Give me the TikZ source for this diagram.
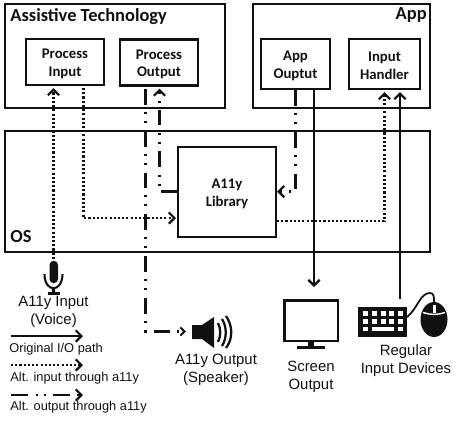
\documentclass[tikz,border=0pt]{standalone}
\usepackage{fontspec}
\setmainfont{Liberation Sans}
\newfontfamily\labelfont{Carlito}
\usepackage{xcolor}
\usetikzlibrary{arrows.meta}
\definecolor{inkblack}{HTML}{111111}
\tikzset{
  panel/.style={draw=inkblack,line width=1.15pt,inner sep=0pt},
  boxlabel/.style={font=\labelfont\bfseries\fontsize{8.4}{10}\selectfont,align=center,text=inkblack,yshift=-0.04cm},
  paneltitle/.style={font=\labelfont\bfseries\fontsize{10.5}{11}\selectfont,text=inkblack,inner sep=0pt},
  devicelabel/.style={font=\fontsize{8.5}{10.1}\selectfont,align=center,text=inkblack,inner sep=0pt},
  legendlabel/.style={font=\fontsize{7.3}{9}\selectfont,text=inkblack,inner sep=0pt,anchor=west},
  regularpath/.style={draw=inkblack,line width=1.15pt,-{Straight Barb[length=3.2pt,width=6.4pt,line width=1.3pt]}},
  altinput/.style={regularpath,dash pattern=on 1.2pt off 1.2pt},
  altoutput/.style={regularpath,dash pattern=on 9pt off 4pt on 1.1pt off 4pt on 1.1pt off 4.6pt},
}
\begin{document}
\begin{tikzpicture}[x=0.02cm,y=-0.02cm]
  \useasboundingbox (0,0) rectangle (474,420);
  % the three layers
  \node[panel,minimum width=220*0.02cm,minimum height=104*0.02cm] (assistive) at (115,56) {};
  \node[panel,minimum width=177*0.02cm,minimum height=104*0.02cm] (appbox) at (341.5,56) {};
  \node[panel,minimum width=425*0.02cm,minimum height=121*0.02cm] (osbox) at (217.5,191.5) {};
  \node[paneltitle,anchor=west] (attitle) at (10,17) {Assistive Technology};
  \node[paneltitle,anchor=east] (apptitle) at (427,15) {App};
  \node[paneltitle,anchor=west] (ostitle) at (10,237) {OS};
  % inner boxes
  \node[panel,minimum width=78*0.02cm,minimum height=46*0.02cm] (procinput) at (65,62) {};
  \node[panel,minimum width=78*0.02cm,minimum height=46*0.02cm] (procoutput) at (159,62.5) {};
  \node[panel,minimum width=69*0.02cm,minimum height=50*0.02cm] (appoutput) at (295.5,64) {};
  \node[panel,minimum width=71*0.02cm,minimum height=50*0.02cm] (inputhandler) at (384.5,64) {};
  \node[panel,minimum width=98*0.02cm,minimum height=90*0.02cm] (library) at (227,192) {};
  \node[boxlabel] (procinputtext) at (procinput.center) {Process\\Input};
  \node[boxlabel] (procoutputtext) at (procoutput.center) {Process\\Output};
  \node[boxlabel] (appoutputtext) at (appoutput.center) {App\\Ouptut};
  \node[boxlabel] (inputhandlertext) at (inputhandler.center) {Input\\Handler};
  \node[boxlabel] (librarytext) at (library.center) {A11y\\Library};
  % device labels
  \node[devicelabel] (voicelabel) at (53.5,312) {A11y Input\\(Voice)};
  \node[devicelabel] (speakerlabel) at (216,370) {A11y Output\\(Speaker)};
  \node[devicelabel] (screenlabel) at (311,376.5) {Screen\\Output};
  \node[devicelabel] (regularlabel) at (406,360.5) {Regular\\Input Devices};
  % free ends
  \coordinate (mictop) at (53.5,259);
  \coordinate (pinputout) at (83.5,88);
  \coordinate (libin) at (176,218);
  \coordinate (poutdown) at (145.5,89);
  \coordinate (speakerin) at (186,331.5);
  \coordinate (libleft) at (159.5,191.5);
  \coordinate (appdown) at (295.5,90);
  \coordinate (libright) at (277,191.5);
  \coordinate (screentop) at (314,287);
  \coordinate (appsolid) at (314,89);
  \coordinate (hinput) at (384.5,221);
  \coordinate (kbtop) at (400,299);
  % connectors
  \draw[altinput] (mictop) -- ([yshift=-0.04cm]mictop |- procinput.south);
  \draw[altinput] (pinputout) |- (libin);
  \draw[altoutput,-{Straight Barb[length=2.4pt,width=4.6pt,line width=1.1pt]}] (poutdown) |- (speakerin);
  \draw[altoutput] (libleft -| library.west) -| ([yshift=-0.04cm]libleft |- procoutput.south);
  \draw[altoutput] (appdown) |- (libright);
  \draw[regularpath] (appsolid) -- (screentop);
  \draw[altinput] (library.east |- hinput) -| ([yshift=-0.04cm]hinput |- inputhandler.south);
  \draw[regularpath] (kbtop) -- ([yshift=-0.04cm]kbtop |- inputhandler.south);
  % legend
  \coordinate (lega) at (11,336);
  \coordinate (legb) at (83,336);
  \coordinate (legc) at (11,365);
  \coordinate (legd) at (83,365);
  \coordinate (lege) at (11,395);
  \coordinate (legf) at (83,395);
  \draw[regularpath] (lega) -- (legb);
  \draw[altinput] (legc) -- (legd);
  \draw[regularpath,dash pattern=on 9.6pt off 4.5pt on 1.1pt off 3.4pt on 1.1pt off 4pt on 9.6pt off 4pt] (lege) -- (legf);
  \node[legendlabel] (legendone) at (9,349) {Original I/O path};
  \node[legendlabel] (legendtwo) at (10,378) {Alt. input through a11y};
  \node[legendlabel] (legendthree) at (10,407) {Alt. output through a11y};
  % microphone
  \fill[inkblack] (49.5,265) arc (180:360:4.25) -- (58,279) arc (0:180:4.25) -- cycle;
  \draw[inkblack,line width=1.2pt] (44.5,274) .. controls (44.5,293) and (62.5,293) .. (62.5,274);
  \draw[inkblack,line width=1.2pt] (53.5,288) -- (53.5,293);
  \draw[inkblack,line width=1.2pt] (47.5,293.5) -- (60,293.5);
  % speaker
  \fill[inkblack] (192,325) -- (202,325) -- (214,317) -- (214,348) -- (202,339) -- (192,339) -- cycle;
  \draw[inkblack,line width=1.3pt] (218,323) .. controls (221,329) and (221,336) .. (218,342);
  \draw[inkblack,line width=1.3pt] (222,319) .. controls (227,327) and (227,338) .. (222,346);
  \draw[inkblack,line width=1.3pt] (226,316) .. controls (233,326) and (233,339) .. (226,348);
  % screen
  \draw[inkblack,line width=1.7pt] (284.5,300.5) rectangle (338,341);
  \fill[inkblack] (308,342) rectangle (314,346);
  \fill[inkblack] (297,346) rectangle (325,349);
  % keyboard
  \fill[inkblack] (358,307) rectangle (407,337);
  \foreach \keyx in {363,372,381,389,398} {
    \fill[white] (\keyx,311) rectangle ++(5,4.5);
    \fill[white] (\keyx,319) rectangle ++(5,4.5);
  }
  \fill[white] (363,326.5) rectangle ++(5,4.5);
  \fill[white] (372,326.5) rectangle (394,331);
  \fill[white] (398,326.5) rectangle ++(5,4.5);
  % mouse
  \fill[inkblack] (434,319.5) ellipse (13.5 and 17.5);
  \draw[white,line width=0.8pt] (423,312.5) .. controls (430,315) and (438,315) .. (445,312.5);
  \fill[white] (432.5,305) rectangle (435.5,313);
  \draw[inkblack,line width=1pt] (407,317) .. controls (418,308) and (420,293) .. (430,293) .. controls (434,293) and (434,297) .. (434,302);
\end{tikzpicture}
\end{document}
